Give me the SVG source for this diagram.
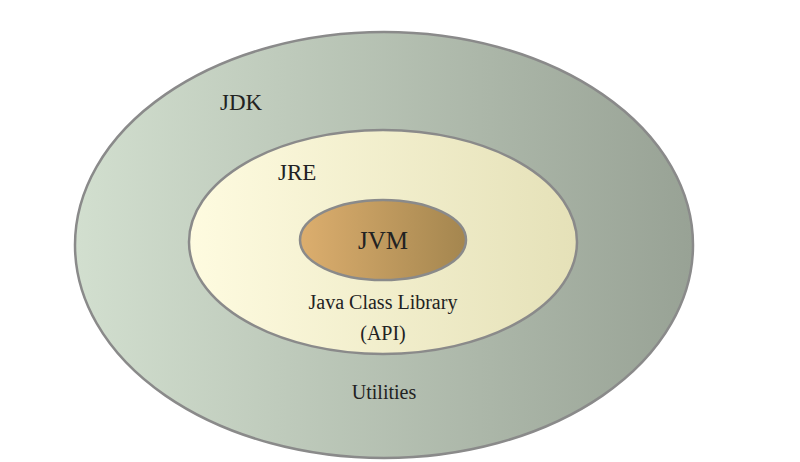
<svg xmlns="http://www.w3.org/2000/svg" width="800" height="462" viewBox="0 0 800 462">
<defs>
<linearGradient id="gOut" x1="0" x2="1" y1="0" y2="0"><stop offset="0" stop-color="#d2dfcf"/><stop offset="1" stop-color="#98a295"/></linearGradient>
<linearGradient id="gJre" x1="0" x2="1" y1="0" y2="0"><stop offset="0" stop-color="#fefbe0"/><stop offset="1" stop-color="#e5e1b8"/></linearGradient>
<linearGradient id="gJvm" x1="0" x2="1" y1="0" y2="0"><stop offset="0" stop-color="#dcae6e"/><stop offset="1" stop-color="#a4864f"/></linearGradient>
<style>
.e{stroke:#8a8a8a;stroke-width:2.5}
.t{font-family:"Liberation Serif",serif;fill:#222}
</style>
</defs>
<rect width="800" height="462" fill="#fff"/>
<g id="jdk"><ellipse class="e" cx="384" cy="245" rx="309" ry="213" fill="url(#gOut)"/>
<text class="t" x="220" y="110" font-size="23">JDK</text>
<text class="t" x="384" y="399" font-size="20" text-anchor="middle">Utilities</text></g>
<g id="jre"><ellipse class="e" cx="383" cy="242" rx="194" ry="112" fill="url(#gJre)"/>
<text class="t" x="278" y="180" font-size="23">JRE</text>
<text class="t" x="383" y="309" font-size="20" text-anchor="middle">Java Class Library</text>
<text class="t" x="383" y="340" font-size="20" text-anchor="middle">(API)</text></g>
<g id="jvm"><ellipse class="e" cx="383" cy="240" rx="83" ry="40" fill="url(#gJvm)"/>
<text class="t" x="383" y="249" font-size="25" text-anchor="middle">JVM</text></g>
<g id="connectors"/>
</svg>
